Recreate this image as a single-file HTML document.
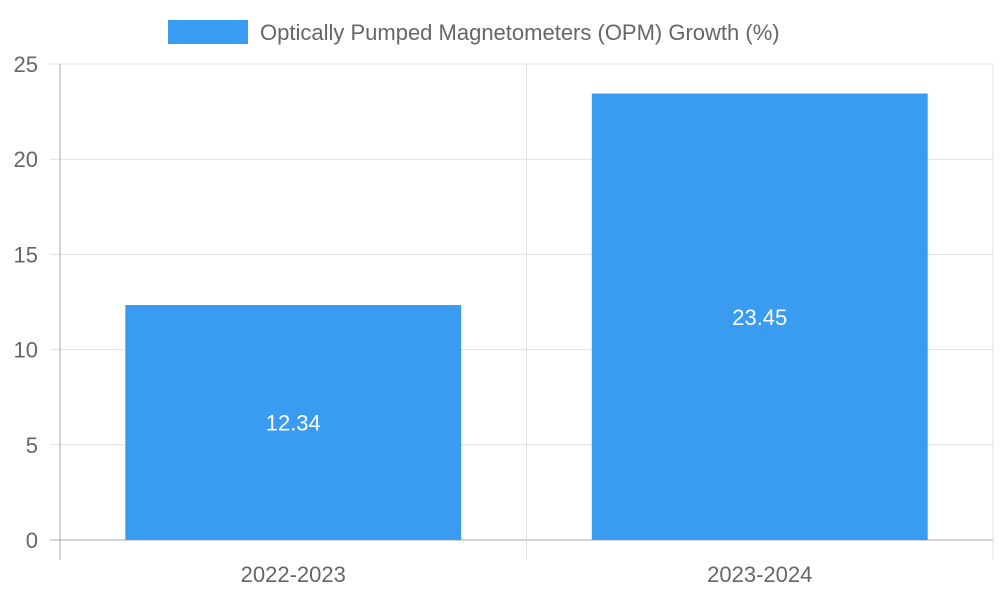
<!DOCTYPE html>
<html><head><meta charset="utf-8"><style>
body{margin:0;background:#fff;}
svg{display:block;font-family:"Liberation Sans",sans-serif;}
</style></head><body>
<svg id="chart" width="1000" height="600">
<g id="grid"></g>
<g id="bars"></g>
<g id="labels"></g>
<g>
<rect x="168" y="20" width="80" height="24" fill="#399cf0"/>
<text x="260" y="40" font-size="22" fill="#666">Optically Pumped Magnetometers (OPM) Growth (%)</text>
</g>
</svg>
<script>
const categories = ["2022-2023","2023-2024"];
const values = [12.34, 23.45];
const yTicks = [0,5,10,15,20,25];
const NS="http://www.w3.org/2000/svg";
const L=60,R=993,T=64,B=540,yMax=25;
const y=v=>B-(v/yMax)*(B-T);
const cw=(R-L)/categories.length;
const x=i=>L+cw*i;
function mk(t,a,p){const e=document.createElementNS(NS,t);for(const k in a)e.setAttribute(k,a[k]);p.appendChild(e);return e;}
const g=document.getElementById('grid'),bg=document.getElementById('bars'),lg=document.getElementById('labels');
yTicks.forEach(t=>{
  const ln=mk('line',{x1:L-10,x2:R,y1:y(t),y2:y(t),stroke:t===0?'#aaa':'#e0e0e0','stroke-width':1},g);
  
  
  const tx=mk('text',{x:L-22,y:y(t)+8,'text-anchor':'end','font-size':22,fill:'#666'},g);
  tx.textContent=t;
  
  
});
for(let i=0;i<=categories.length;i++){
  const ln=mk('line',{x1:x(i),x2:x(i),y1:T,y2:B+20,stroke:i===0?'#aaa':'#e0e0e0','stroke-width':1},g);
  
  
}
categories.forEach((c,i)=>{
  const bw=cw*0.72,bx=x(i)+(cw-bw)/2,v=values[i];
  const r=mk('rect',{x:bx,y:y(v),width:bw,height:B-y(v),fill:'#399cf0'},bg);
  
  
  const vt=mk('text',{x:x(i)+cw/2,y:(y(v)+B)/2+8,'text-anchor':'middle','font-size':22,fill:'#fff'},lg);
  vt.textContent=v.toFixed(2);
  
  
  const ct=mk('text',{x:x(i)+cw/2,y:582,'text-anchor':'middle','font-size':22,fill:'#666'},lg);
  ct.textContent=c;
  
  
});
</script>
</body></html>
